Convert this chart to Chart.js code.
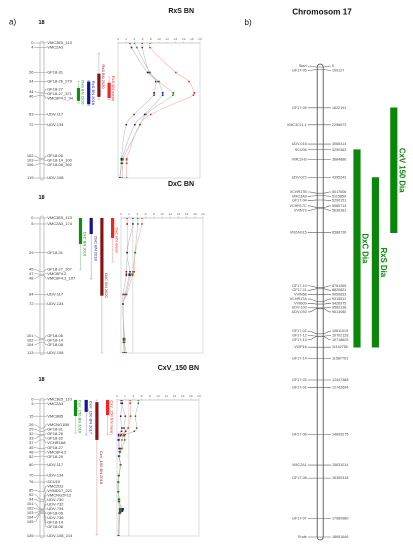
<!DOCTYPE html>
<html>
<head>
<meta charset="utf-8">
<script src="https://cdn.jsdelivr.net/npm/chart.js@4.4.1/dist/chart.umd.min.js"></script>
<style>
html, body { margin: 0; padding: 0; background: #fff; }
#wrap { position: relative; width: 413px; height: 550px; overflow: hidden; }
#wrap canvas { position: absolute; left: 0; top: 0; }
</style>
</head>
<body>
<div id="wrap">
  <canvas id="rxs" width="413" height="550"></canvas>
  <canvas id="dxc" width="413" height="550"></canvas>
  <canvas id="cxv" width="413" height="550"></canvas>
  <canvas id="chr17" width="413" height="550"></canvas>
</div>
<script>
// ---- a) linkage group 18, RxS BN ----
const rxsMarkers = ['VMC3E5_113', 'VMC2A3', 'GF18-31', 'GF18-26_279', 'GF18-27', 'GF18-27_371', 'VMC8F4.2_94',
  'UDV-117', 'UDV-134', 'GF18-06', 'GF18-14_100', 'GF18-08_392', 'UDV-108'];
const rxsCM = [0, 4, 26, 34, 44, 44, 46, 63, 72, 102, 103, 106, 119];
const rxsLod2016 = [4.0, 4.6, 7.8, 10.0, 13.5, 13.5, 13.4, 6.8, 5.4, 1.2, 1.2, 1.1, 1.0];
const rxsLod2018 = [2.9, 3.3, 7.2, 9.8, 10.9, 10.9, 10.9, 6.5, 4.1, 0.9, 0.9, 0.9, 0.5];
const rxsLod2020 = [5.9, 5.9, 7.6, 9.2, 8.8, 8.8, 8.8, 3.9, 2.0, 0.8, 0.8, 0.8, 0.4];
const rxsLodMean = [7.8, 7.8, 14.1, 17.3, 18.6, 18.6, 18.4, 8.0, 5.3, 2.1, 2.1, 2.1, 2.1];
const rxsQtlNames = ['RxS BN 2016', 'RxS BN 2018', 'RxS BN 2020', 'RxS BN mean'];
const rxsQtlBar = [[39.6, 51], [34, 54], [27, 47.5], [35, 48.5]];
const rxsQtlCI = [[34, 53], [33, 55], [9, 50], [30, 50]];

// ---- linkage group 18, DxC BN ----
const dxcMarkers = ['VMC3E5_113', 'VMC2A3_174', 'GF18-31', 'GF18-27_207', 'VMC8F4.2', 'VMC8F4.2_107',
  'UDV-117', 'UDV-134', 'GF18-06', 'GF18-14', 'GF18-08', 'UDV-108'];
const dxcCM = [0, 5, 29, 45, 47, 48, 64, 72, 101, 102, 104, 113];
const dxcLod2016 = [4.1, 4.1, 3.4, 2.9, 2.4, 2.3, 1.2, 0.5, 0.8, 0.8, 0.8, 1.3];
const dxcLod2018 = [2.9, 2.9, 1.5, 2.2, 2.0, 2.0, 1.0, 0.5, 0.8, 0.8, 0.8, 0.9];
const dxcLod2020 = [1.5, 1.5, 1.5, 1.3, 1.3, 1.3, 0.5, 0.5, 0.6, 0.6, 0.6, 0.5];
const dxcLodMean = [5.1, 5.1, 3.5, 3.2, 2.9, 2.8, 1.4, 0.5, 0.9, 0.9, 0.9, 0.9];
const dxcQtlNames = ['DxC BN 2016', 'DxC BN 2018', 'DxC BN 2020', 'DxC BN mean'];
const dxcQtlBar = [[0, 21.8], [0, 13.4], [0, 65], [0, 16.7]];
const dxcQtlCI = [[0, 43.5], [0, 51], [0, 113], [0, 37]];

// ---- linkage group 18, CxV_150 BN ----
const cxvMarkers = ['VMC3E5_110', 'VMC2A3', 'VMC8B5', 'VMCNG1B9', 'GF18-31', 'GF18-26', 'GF18-32', 'VCHR18A',
  'GF18-27', 'VMC8F4.2', 'GF18-29', 'UDV-117', 'UDV-134', 'SCU10', 'VMC2D2', 'VVMD17_221', 'VMCNG2F12',
  'UDV-730', 'UDV-732', 'UDV-734', 'GF18-06', 'UDV-736', 'GF18-14', 'GF18-08', 'UDV-108_214'];
const cxvCM = [0, 3, 15, 26, 29, 32, 33, 37, 45, 48, 52, 60, 70, 76, 85, 92, 94, 101, 101, 101, 102, 103, 104, 105, 126];
const cxvLod2016 = [5.2, 5.2, 4.5, 4.8, 4.2, 2.0, 1.8, 1.9, 1.2, 0.8, 0.6, 0.8, 0.5, 0.4, 0.4, 0.5, 0.5, 0.8, 0.8, 0.9, 0.9, 0.9, 0.8, 0.7, 0.5];
const cxvLod2017 = [1.2, 1.3, 0.9, 1.2, 1.1, 0.4, 0.4, 0.3, 0.5, 0.6, 0.5, 0.9, 0.4, 0.3, 0.3, 0.4, 0.5, 1.3, 1.5, 1.5, 1.4, 1.3, 0.9, 0.7, 0.4];
const cxvLod2018 = [1.0, 1.0, 2.0, 1.7, 2.1, 1.0, 0.9, 0.5, 0.7, 0.8, 0.4, 0.8, 0.4, 0.3, 0.3, 0.5, 0.4, 0.6, 0.7, 0.7, 0.7, 0.7, 0.6, 0.5, 0.3];
const cxvLodMean = [3.2, 3.2, 3.3, 2.7, 2.1, 1.6, 1.5, 1.2, 1.0, 0.8, 0.5, 0.9, 0.5, 0.3, 0.3, 0.6, 0.6, 1.0, 1.1, 1.1, 1.0, 1.0, 0.8, 0.7, 0.4];
const cxvQtlNames = ['CxV_150 BN 2016', 'CxV_150 BN 2017', 'CxV_150 BN 2018', 'CxV_150 BN mean'];
const cxvQtlBar = [[0, 14.8], [0, 11], [2, 37], [0, 14]];
const cxvQtlCI = [[0, 30.6], [0, 32.4], [0, 125], [0, 32.4]];

// ---- b) physical map, chromosome 17 ----
const chrMarkers = ['Start', 'GF17-05', 'GF17-09', 'VMC3C11.1', 'UDV-016', 'SCU06', 'VMC2H3', 'UDV-072',
  'VCHR17B', 'VMC3A9', 'GF17-04', 'VCHR17C', 'VVIN73', 'VRZAG15', 'GF17-10', 'GF17-11', 'VVIN68', 'VCHR17A',
  'VVIB09', 'UDV-103', 'UDV-092', 'GF17-02', 'GF17-12', 'GF17-13', 'VVIP16', 'GF17-14', 'GF17-03', 'GF17-01',
  'GF17-06', 'VMC2A1', 'GF17-08', 'GF17-07', 'Ende'];
const chrPos = [0, 100127, 1622191, 2298673, 3065414, 3290363, 3684886, 4395242,
  5017606, 5115850, 5290151, 5585713, 5636281, 6588726, 8761265, 8820821, 9050833, 9315511,
  9426975, 9582138, 9613080, 10611019, 10702128, 10718625, 11142756, 11587791, 12447388, 12742694,
  14605275, 15831014, 16350318, 17960980, 18691646];
const diaQtlNames = ['DxC Dia', 'RxS Dia', 'CxV 150 Dia'];
const diaQtlFrom = [3290363, 4395242, 1622191];
const diaQtlTo = [11142756, 11142756, 6588726];

// styles
const seriesColors = ['#138a13', '#12129c', '#8a1212', '#ff1f1f'];
const whiskerColors = ['#98cf98', '#a0a0d8', '#dba3a3', '#ffa6a6'];
const curveColors = ['#bdbdbd', '#bdbdbd', '#bdbdbd', '#ffb0b0'];
const diaGreen = '#0a860a';
const mapFont = 'Arial, "Liberation Sans", sans-serif';

// spread crowded labels so they keep a minimum gap
function spread(ys, gap) {
  const out = ys.slice();
  for (let k = 0; k < 400; k++) {
    let moved = false;
    for (let i = 1; i < out.length; i++) {
      const d = out[i] - out[i - 1];
      if (d < gap - 0.01) {
        const m = (gap - d) / 2;
        out[i] += m;
        out[i - 1] -= m;
        moved = true;
      }
    }
    if (!moved) break;
  }
  return out;
}

function pill(ctx, x, y, w, h) {
  const r = w / 2;
  ctx.beginPath();
  ctx.moveTo(x, y + r);
  ctx.arc(x + r, y + r, r, Math.PI, 0);
  ctx.lineTo(x + w, y + h - r);
  ctx.arc(x + r, y + h - r, r, 0, Math.PI);
  ctx.closePath();
}

const panels = [
  { id: 'rxs', title: 'RxS BN', titleX: 194, titleY: 11, tag: 'a)',
    box: { l: 118, r: 200, t: 43, b: 178 }, names: rxsMarkers, cm: rxsCM,
    lod: [rxsLod2016, rxsLod2018, rxsLod2020, rxsLodMean],
    qtlNames: rxsQtlNames, qtlBar: rxsQtlBar, qtlCI: rxsQtlCI, qx0: 78.5, qdx: 10.2, threshold: null },
  { id: 'dxc', title: 'DxC BN', titleX: 194, titleY: 184,
    box: { l: 121, r: 203, t: 218, b: 353 }, names: dxcMarkers, cm: dxcCM,
    lod: [dxcLod2016, dxcLod2018, dxcLod2020, dxcLodMean],
    qtlNames: dxcQtlNames, qtlBar: dxcQtlBar, qtlCI: dxcQtlCI, qx0: 80.5, qdx: 10.7, threshold: 2.9 },
  { id: 'cxv', title: 'CxV_150 BN', titleX: 199, titleY: 368,
    box: { l: 117, r: 199, t: 400, b: 536 }, names: cxvMarkers, cm: cxvCM,
    lod: [cxvLod2016, cxvLod2017, cxvLod2018, cxvLodMean],
    qtlNames: cxvQtlNames, qtlBar: cxvQtlBar, qtlCI: cxvQtlCI, qx0: 75.5, qdx: 10.7, threshold: 2.9 }
];

function mapPlugin(p) {
  return {
    id: 'map_' + p.id,
    beforeDatasetsDraw(chart) {
      const { ctx, chartArea: a, scales: { x } } = chart;
      ctx.save();
      ctx.strokeStyle = '#c6c6c6';
      ctx.lineWidth = 0.6;
      ctx.strokeRect(a.left, a.top, a.right - a.left, a.bottom - a.top);
      if (p.threshold != null) {
        const tx = x.getPixelForValue(p.threshold);
        ctx.beginPath();
        ctx.moveTo(tx, a.top);
        ctx.lineTo(tx, a.bottom);
        ctx.stroke();
      }
      ctx.restore();
    },
    afterDraw(chart) {
      const { ctx, scales: { y } } = chart;
      const barL = 40, barR = 44, numR = 33.5, nameL = 47.2;
      const ys = p.cm.map(v => y.getPixelForValue(v));
      const top = ys[0], bot = ys[ys.length - 1];
      ctx.save();

      // titles
      ctx.fillStyle = '#111';
      ctx.textBaseline = 'middle';
      ctx.font = 'bold 7px ' + mapFont;
      ctx.textAlign = 'right';
      ctx.fillText(p.title, p.titleX, p.titleY);
      if (p.tag) {
        ctx.font = '8px ' + mapFont;
        ctx.textAlign = 'left';
        ctx.fillText(p.tag, 9, 22.5);
      }
      ctx.font = 'bold 5.5px ' + mapFont;
      ctx.textAlign = 'center';
      ctx.fillText('18', 41.5, top - 20.5);

      // linkage group bar
      ctx.strokeStyle = '#9c9c9c';
      ctx.lineWidth = 0.6;
      pill(ctx, barL, top - 2, barR - barL, bot - top + 4);
      ctx.stroke();

      ctx.font = '4px ' + mapFont;
      ctx.fillStyle = '#333';
      const nameY = spread(ys, 4.5);
      ys.forEach((my, i) => {
        ctx.beginPath();
        ctx.moveTo(barL, my);
        ctx.lineTo(barR, my);
        ctx.lineTo(nameL - 1.4, nameY[i]);
        ctx.lineTo(nameL - 0.4, nameY[i]);
        ctx.stroke();
        ctx.textAlign = 'left';
        ctx.fillText(p.names[i], nameL, nameY[i]);
      });
      const uniq = [];
      p.cm.forEach((v, i) => { if (i === 0 || v !== p.cm[i - 1]) uniq.push(i); });
      const numY = spread(uniq.map(i => ys[i]), 4.5);
      uniq.forEach((i, k) => {
        ctx.beginPath();
        ctx.moveTo(numR + 0.6, numY[k]);
        ctx.lineTo(numR + 2.2, numY[k]);
        ctx.lineTo(barL, ys[i]);
        ctx.stroke();
        ctx.textAlign = 'right';
        ctx.fillText(String(p.cm[i]), numR, numY[k]);
      });

      // QTL intervals
      p.qtlNames.forEach((name, k) => {
        const cx = p.qx0 + k * p.qdx;
        const c0 = y.getPixelForValue(p.qtlCI[k][0]), c1 = y.getPixelForValue(p.qtlCI[k][1]);
        const b0 = y.getPixelForValue(p.qtlBar[k][0]), b1 = y.getPixelForValue(p.qtlBar[k][1]);
        ctx.strokeStyle = whiskerColors[k];
        ctx.lineWidth = 0.6;
        ctx.beginPath();
        ctx.moveTo(cx, c0); ctx.lineTo(cx, c1);
        ctx.moveTo(cx - 1.3, c0); ctx.lineTo(cx + 1.3, c0);
        ctx.moveTo(cx - 1.3, c1); ctx.lineTo(cx + 1.3, c1);
        ctx.stroke();
        ctx.fillStyle = seriesColors[k];
        ctx.fillRect(cx - 1.6, b0, 3.2, b1 - b0);
        ctx.save();
        ctx.translate(cx + 4.2, (c0 + c1) / 2);
        ctx.rotate(Math.PI / 2);
        ctx.textAlign = 'center';
        ctx.font = '4px ' + mapFont;
        ctx.fillText(name, 0, 0);
        ctx.restore();
      });
      ctx.restore();
    }
  };
}

panels.forEach(p => {
  const axisH = 5;
  new Chart(document.getElementById(p.id), {
    type: 'scatter',
    data: {
      datasets: p.lod.map((vals, k) => ({
        label: p.qtlNames[k],
        data: vals.map((v, i) => ({ x: v, y: p.cm[i] })),
        showLine: true,
        borderColor: curveColors[k],
        borderWidth: 0.6,
        tension: 0.4,
        pointStyle: 'rect',
        pointRadius: 1.1,
        pointBorderWidth: 0,
        pointBackgroundColor: seriesColors[k]
      }))
    },
    options: {
      responsive: false,
      animation: false,
      devicePixelRatio: 2,
      layout: { padding: { left: p.box.l, right: 413 - p.box.r, top: p.box.t - axisH, bottom: 550 - p.box.b } },
      scales: {
        x: {
          position: 'top', min: 0, max: 20,
          ticks: { stepSize: 2, autoSkip: false, maxRotation: 0, padding: 0.4, color: '#666', font: { size: 3.3 } },
          grid: { drawOnChartArea: false, tickLength: 1.5, color: '#aaa', lineWidth: 0.5 },
          border: { color: '#aaa', width: 0.6 },
          afterFit: s => { s.height = axisH; }
        },
        y: { display: false, reverse: true, min: 0, max: p.cm[p.cm.length - 1] }
      },
      plugins: { legend: { display: false }, tooltip: { enabled: false } }
    },
    plugins: [mapPlugin(p)]
  });
});

// ---- chromosome 17 ----
const chrPlugin = {
  id: 'chr',
  beforeDatasetsDraw(chart) {
    const { ctx, scales: { x, y } } = chart;
    const cx = x.getPixelForValue(0), hw = 3;
    const ys = chrPos.map(v => y.getPixelForValue(v));
    const top = ys[0], bot = ys[ys.length - 1];
    ctx.save();
    ctx.fillStyle = '#111';
    ctx.textBaseline = 'middle';
    ctx.font = 'bold 8.2px ' + mapFont;
    ctx.textAlign = 'center';
    ctx.fillText('Chromosom 17', 322, 12);
    ctx.font = '8px ' + mapFont;
    ctx.textAlign = 'left';
    ctx.fillText('b)', 244.5, 23);

    ctx.strokeStyle = '#444';
    ctx.lineWidth = 0.8;
    pill(ctx, cx - hw, top - 3, hw * 2, bot - top + 6);
    ctx.stroke();

    const labY = spread(ys, 4.3);
    ctx.lineWidth = 0.55;
    ctx.strokeStyle = '#555';
    ctx.fillStyle = '#444';
    ctx.font = '3.7px ' + mapFont;
    ys.forEach((my, i) => {
      ctx.beginPath();
      ctx.moveTo(cx - 12.5, labY[i]);
      ctx.lineTo(cx - 10, labY[i]);
      ctx.lineTo(cx - hw - 1, my);
      ctx.lineTo(cx + hw + 1, my);
      ctx.lineTo(cx + 9, labY[i]);
      ctx.lineTo(cx + 10.8, labY[i]);
      ctx.stroke();
      ctx.textAlign = 'right';
      ctx.fillText(chrMarkers[i], cx - 13.5, labY[i]);
      ctx.textAlign = 'left';
      ctx.fillText(String(chrPos[i]), cx + 11.8, labY[i]);
    });
    ctx.restore();
  },
  afterDatasetsDraw(chart) {
    const { ctx, scales: { x, y } } = chart;
    ctx.save();
    ctx.fillStyle = diaGreen;
    ctx.font = 'bold 7.8px ' + mapFont;
    ctx.textAlign = 'center';
    ctx.textBaseline = 'middle';
    diaQtlNames.forEach((name, k) => {
      const bx = x.getPixelForValue(k + 2);
      const my = (y.getPixelForValue(diaQtlFrom[k]) + y.getPixelForValue(diaQtlTo[k])) / 2;
      ctx.save();
      ctx.translate(bx + 7.6, my);
      ctx.rotate(Math.PI / 2);
      ctx.fillText(name, 0, 0);
      ctx.restore();
    });
    ctx.restore();
  }
};

new Chart(document.getElementById('chr17'), {
  type: 'bar',
  data: {
    labels: ['Chromosom 17', ''].concat(diaQtlNames),
    datasets: [{
      data: [null, null].concat(diaQtlNames.map((n, k) => [diaQtlFrom[k], diaQtlTo[k]])),
      backgroundColor: diaGreen,
      borderWidth: 0,
      borderSkipped: false,
      barThickness: 6.5
    }]
  },
  options: {
    responsive: false,
    animation: false,
    devicePixelRatio: 2,
    layout: { padding: { left: 311, right: 10, top: 67, bottom: 13 } },
    scales: {
      x: { display: false },
      y: { display: false, reverse: true, min: 0, max: chrPos[chrPos.length - 1] }
    },
    plugins: { legend: { display: false }, tooltip: { enabled: false } }
  },
  plugins: [chrPlugin]
});
</script>
</body>
</html>
